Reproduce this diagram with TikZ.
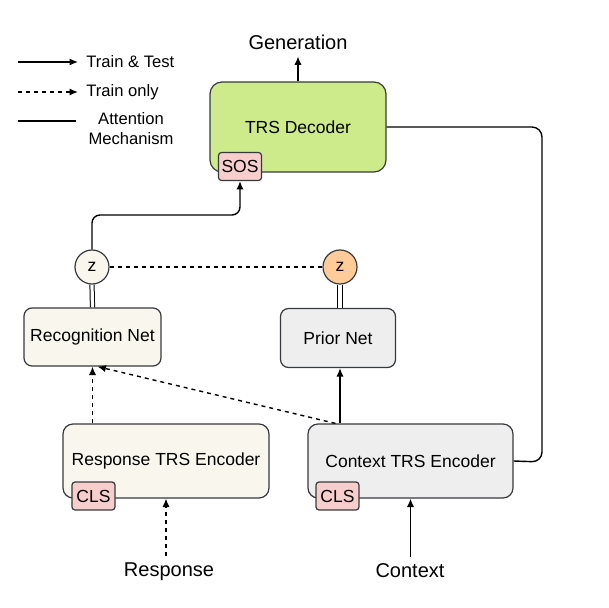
\documentclass[tikz,border=0pt]{standalone}
\usepackage{fontspec}
\setmainfont{Liberation Sans}
\usepackage{tikz}
\usetikzlibrary{calc}
\usetikzlibrary{shapes,arrows,arrows.meta}

\definecolor{boxline}{HTML}{36393D}
\definecolor{decgreen}{HTML}{CDEB8B}
\definecolor{tokpink}{HTML}{F8CECC}
\definecolor{netcream}{HTML}{F9F7ED}
\definecolor{netgray}{HTML}{EEEEEE}
\definecolor{zorange}{HTML}{FFCC99}

\begin{document}
\begin{tikzpicture}[x=0.5pt,y=-0.5pt]
		\tikzstyle{every node}=[font=\fontsize{8.75}{10.5}\selectfont]
		\tikzstyle{block}=[draw=boxline,line width=0.6pt,rectangle,inner sep=0pt]
		\tikzstyle{token}=[block,fill=tokpink,rounded corners=1.5pt,minimum width=21.5pt,minimum height=14pt]
		\tikzstyle{zvar}=[draw=boxline,line width=0.6pt,circle,inner sep=0pt,minimum size=17pt]
		\tikzstyle{flow}=[line width=0.7pt,-{Latex[length=4.2pt,width=3.6pt]}]
		\tikzstyle{trainflow}=[flow,dash pattern=on 2pt off 2pt]
		\tikzstyle{outer}=[font=\fontsize{10}{12}\selectfont]
		\tikzstyle{legend}=[font=\fontsize{8.3}{10}\selectfont]
		
		\useasboundingbox (0,0) rectangle (608,608);
		
		% legend
		\coordinate (l1a) at (18,62);
		\coordinate (l1b) at (78,62);
		\coordinate (l2a) at (18,92);
		\coordinate (l2b) at (78,92);
		\coordinate (l3a) at (18,121);
		\coordinate (l3b) at (76,121);
		\draw [flow] (l1a) -- (l1b);
		\draw [trainflow] (l2a) -- (l2b);
		\draw [line width=0.7pt] (l3a) -- (l3b);
		\node [legend,anchor=west,inner sep=0pt] (leg1) at (86,62) {Train \& Test};
		\node [legend,anchor=west,inner sep=0pt] (leg2) at (86,92) {Train only};
		\node [legend,align=center] (leg3) at (131,129) {Attention\\Mechanism};
		
		% decoder
		\node [block,fill=decgreen,rounded corners=6pt,minimum width=88pt,minimum height=45pt] (dec) at (298,127) {TRS Decoder};
		\node [token] (sos) at (240,166.5) {SOS};
		\node [outer] (gen) at (298,42) {Generation};
		
		% latent variables
		\node [zvar,fill=netcream] (zr) at (92,267) {z};
		\node [zvar,fill=zorange] (zp) at (340,267) {z};
		
		% nets
		\node [block,fill=netcream,rounded corners=4pt,minimum width=68.5pt,minimum height=29pt] (recog) at (92.5,337) {Recognition Net};
		\node [block,fill=netgray,rounded corners=4pt,minimum width=57.5pt,minimum height=29.5pt] (prior) at (338,338) {Prior Net};
		
		% encoders
		\node [block,fill=netcream,rounded corners=5pt,minimum width=103pt,minimum height=37pt] (resenc) at (166,461) {Response TRS Encoder};
		\node [block,fill=netgray,rounded corners=5pt,minimum width=102.5pt,minimum height=37pt] (ctxenc) at (410.5,461) {Context TRS Encoder};
		\node [token] (cls1) at (93.5,496) {CLS};
		\node [token] (cls2) at (337.5,496) {CLS};
		
		\node [outer] (resp) at (169,572) {Response};
		\node [outer] (ctx) at (410,571) {Context};
		
		% connectors
		\draw [flow] (dec.north) -- (gen.south);
		\draw [flow,rounded corners=4pt] (zr.north) -- (zr.north |- 0,215) -- (sos.south |- 0,215) -- (sos.south);
		\draw [line width=0.7pt,rounded corners=5pt] (dec.east) -- (542,127) -- (542,462) -- (ctxenc.east);
		\draw [line width=0.7pt,dash pattern=on 2pt off 2pt] (zr.east) -- (zp.west);
		\draw [line width=0.5pt,double,double distance=1.6pt] (zr.south) -- (recog.north);
		\draw [line width=0.5pt,double,double distance=1.6pt] (zp.south) -- (zp.south |- prior.north);
		\draw [trainflow] (recog.south |- resenc.north) -- (recog.south);
		\draw [trainflow] ($(ctxenc.north west)+(28,0)$) -- ($(recog.south)+(5,0)$);
		\draw [flow] (zp.south |- ctxenc.north) -- (zp.south |- prior.south);
		\draw [trainflow] (resenc.south |- resp.north) -- (resenc.south);
		\draw [flow] (ctxenc.south |- ctx.north) -- (ctxenc.south);
		
\end{tikzpicture}
\end{document}
